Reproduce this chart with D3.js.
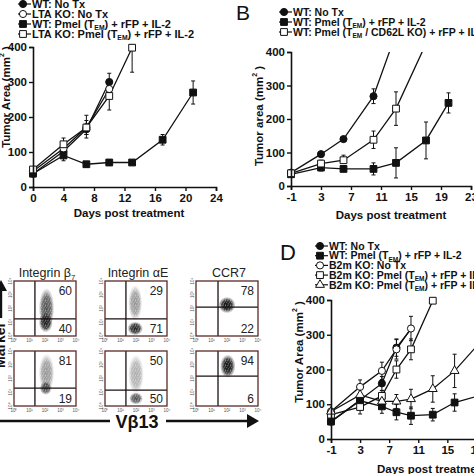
<!DOCTYPE html>
<html>
<head>
<meta charset="utf-8">
<script src="https://cdn.jsdelivr.net/npm/d3@7"></script>
<style>
  body { margin: 0; background: #fff; }
  svg { display: block; font-family: 'Liberation Sans', Arial, sans-serif; }
</style>
</head>
<body>
<svg id="fig" width="474" height="474"></svg>
<script>
/* eslint-disable no-undef */

// ---- panel A : [day, value, errUp, errDown]
const aLegend = ['WT: No Tx', 'LTA KO: No Tx', 'WT: Pmel (T{EM}) + rFP + IL-2', 'LTA KO: Pmel (T{EM}) + rFP + IL-2']
const aWtNoTx = [[0, 38, 5, 5], [4, 102, 12, 12], [7, 165, 15, 15], [10, 300, 25, 25]]
const aLtaNoTx = [[0, 45, 5, 5], [4, 110, 15, 15], [7, 170, 20, 20], [10, 280, 25, 25]]
const aWtPmel = [[0, 38, 5, 5], [4, 90, 10, 15], [7, 65, 8, 8], [10, 70, 8, 8], [13, 70, 6, 6], [17, 135, 15, 15], [21, 270, 33, 33]]
const aLtaPmel = [[0, 50, 5, 5], [4, 122, 18, 15], [7, 170, 35, 30], [10, 260, 20, 40], [13, 398, 8, 70]]
const aTicksX = [0, 4, 8, 12, 16, 20, 24]

// ---- panel B
const bLegend = ['WT: No Tx', 'WT: Pmel (T{EM}) + rFP + IL-2', 'WT: Pmel (T{EM} / CD62L KO) + rFP + IL-2']
const bWtNoTx = [[-1, 40, 5, 5], [3, 95, 6, 6], [6, 140, 6, 6], [10, 268, 22, 22], [13, 455, 0, 0]]
const bWtPmel = [[-1, 35, 5, 5], [3, 55, 10, 10], [6, 51, 6, 6], [10, 51, 18, 18], [13, 69, 45, 45], [17, 136, 55, 55], [20, 248, 30, 30]]
const bCd62l = [[-1, 38, 5, 5], [3, 67, 10, 10], [6, 77, 15, 8], [10, 138, 26, 26], [13, 231, 50, 50], [17, 425, 0, 0]]
const bTicksX = [-1, 3, 7, 11, 15, 19, 23]

// ---- panel D
const dLegend = ['WT: No Tx', 'WT: Pmel (T{EM}) + rFP + IL-2', 'B2m KO: No Tx', 'B2m KO: Pmel (T{EM}) + rFP + IL-2', 'B2m KO: Pmel (T{EM}) + rFP + IL-2']
const dWtNoTx = [[-1, 50, 8, 8], [3, 112, 10, 10], [6, 160, 20, 20], [8, 263, 25, 25], [10, 316, 0, 0]]
const dWtPmel = [[-1, 50, 8, 8], [3, 110, 15, 15], [6, 94, 20, 20], [8, 77, 22, 22], [10, 67, 25, 25], [13, 70, 18, 18], [16, 105, 25, 25], [20, 128, 0, 0]]
const dB2mNoTx = [[-1, 79, 5, 5], [3, 150, 20, 20], [6, 196, 25, 25], [8, 258, 28, 28], [10, 318, 35, 35]]
const dB2mPmel = [[-1, 70, 5, 5], [3, 92, 12, 20], [6, 124, 15, 15], [8, 200, 25, 25], [10, 258, 30, 30], [13, 398, 8, 8]]
const dB2mPmel2 = [[-1, 79, 5, 5], [3, 127, 15, 15], [6, 108, 15, 15], [8, 108, 20, 20], [10, 115, 28, 28], [13, 144, 38, 38], [16, 196, 48, 48], [20, 290, 0, 0]]
const dTicksX = [-1, 3, 7, 11, 15, 19, 23]

const yTicks = [0, 100, 200, 300, 400]

// ---- panel C (flow plots), log10 units 0..4
const flowCols = ['Integrin β{7}', 'Integrin αE', 'CCR7']
const flowGates = [[1.35, 1.24], [1.35, 1.24], [1.42, 2.1], [1.35, 1.3], [1.35, 1.16], [1.42, 2.18]]
const flowPct = [[60, 40], [29, 71], [78, 22], [81, 19], [50, 50], [94, 6]]
// [cx, cy, rx, ry, density]
const flowClouds = [
  [[2.1, 2.0, 0.5, 1.5, 0.75], [2.05, 1.0, 0.45, 0.75, 0.95]],
  [[1.95, 2.4, 0.45, 1.3, 0.45], [1.95, 0.55, 0.5, 0.5, 0.95]],
  [[2.0, 2.25, 0.55, 0.6, 1], [2.0, 2.25, 0.3, 0.4, 1]],
  [[2.1, 2.4, 0.5, 1.4, 0.45], [2.05, 1.3, 0.4, 0.5, 0.75]],
  [[2.0, 2.3, 0.5, 1.45, 0.35], [2.0, 0.55, 0.45, 0.45, 0.75]],
  [[2.05, 2.9, 0.5, 0.85, 1], [2.05, 2.9, 0.3, 0.55, 1]]
]
const flowTicks = ['10⁰', '10¹', '10²', '10³', '10⁴']

const ink = '#111'
const svg = d3.select('#fig')
const defs = svg.append('defs')

/**
 * text with {sub} parts
 */
function richText (sel, str, size) {
  let shift = 0
  str.split(/(\{[^}]*\})/).forEach(part => {
    if (!part) return
    if (part[0] === '{') {
      sel.append('tspan').attr('dy', 2.5 - shift).attr('font-size', size * 0.62).text(part.slice(1, -1))
      shift = 2.5
    } else {
      sel.append('tspan').attr('dy', -shift).text(part)
      shift = 0
    }
  })
}

function drawMarker (g, type, filled, x, y) {
  const sym = type === 'circle' ? d3.symbolCircle : type === 'square' ? d3.symbolSquare : d3.symbolTriangle
  const size = type === 'circle' ? 40 : type === 'square' ? 46 : 34
  g.append('path')
    .attr('d', d3.symbol().type(sym).size(size)())
    .attr('transform', `translate(${x},${y})`)
    .attr('fill', filled ? ink : '#fff')
    .attr('stroke', ink)
    .attr('stroke-width', 1)
}

function legend (x0, y0, dy, labels, series, size) {
  labels.forEach((lab, i) => {
    const y = y0 + i * dy
    svg.append('line').attr('x1', x0).attr('x2', x0 + 13).attr('y1', y).attr('y2', y)
      .attr('stroke', ink).attr('stroke-width', 1.2)
    drawMarker(svg, series[i].type, series[i].filled, x0 + 5, y)
    const t = svg.append('text').attr('x', x0 + 14).attr('y', y + size * 0.36)
      .attr('font-size', size).attr('font-weight', 'bold').attr('fill', ink)
    richText(t, lab, size)
  })
}

function yLabel (x, y, txt) {
  const t = svg.append('text').attr('transform', `translate(${x},${y}) rotate(-90)`)
    .attr('text-anchor', 'middle').attr('font-size', 11.5).attr('font-weight', 'bold').attr('fill', ink)
  t.append('tspan').text(txt + ' (mm')
  t.append('tspan').attr('dy', -6).attr('font-size', 7).text('2')
  t.append('tspan').attr('dy', 6).text(' )')
}

function linePanel (cfg) {
  const x = d3.scaleLinear().domain(cfg.xDomain).range(cfg.xRange)
  const y = d3.scaleLinear().domain([0, 400]).range(cfg.yRange)
  const id = 'clip' + cfg.name
  defs.append('clipPath').attr('id', id).append('rect')
    .attr('x', cfg.xRange[0] - 5).attr('y', y(cfg.clipTop))
    .attr('width', 600).attr('height', y(0) - y(cfg.clipTop) + 10)
  const g = svg.append('g')
  const line = d3.line().x(d => x(d[0])).y(d => y(d[1]))

  cfg.series.forEach(s => {
    g.append('path').datum(s.data).attr('d', line)
      .attr('clip-path', `url(#${id})`)
      .attr('fill', 'none').attr('stroke', ink).attr('stroke-width', 1.3)
  })
  cfg.series.forEach(s => {
    s.data.filter(d => d[1] <= 400 && (d[2] || d[3])).forEach(d => {
      const xx = x(d[0])
      const top = y(d[1] + d[2])
      const bot = y(d[1] - d[3])
      g.append('line').attr('x1', xx).attr('x2', xx).attr('y1', top).attr('y2', bot)
        .attr('stroke', ink).attr('stroke-width', 1)
      ;[top, bot].forEach(yy => g.append('line').attr('x1', xx - 2).attr('x2', xx + 2)
        .attr('y1', yy).attr('y2', yy).attr('stroke', ink).attr('stroke-width', 1))
    })
  })
  cfg.series.forEach(s => {
    s.data.filter(d => d[1] <= 400 && d[2] + d[3] > 0).forEach(d => drawMarker(g, s.type, s.filled, x(d[0]), y(d[1])))
  })

  const xAxis = d3.axisBottom(x).tickValues(cfg.ticksX).tickSize(4).tickPadding(3).tickFormat(d => String(d))
  const yAxis = d3.axisLeft(y).tickValues(yTicks).tickSize(4).tickPadding(2)
  const gx = svg.append('g').attr('transform', `translate(0,${y(0)})`).call(xAxis)
  const gy = svg.append('g').attr('transform', `translate(${x(cfg.xDomain[0])},0)`).call(yAxis)
  ;[gx, gy].forEach(ax => {
    ax.select('.domain').attr('stroke', ink).attr('stroke-width', 1.6)
    ax.selectAll('.tick line').attr('stroke', ink).attr('stroke-width', 1.4)
    ax.selectAll('text').attr('font-size', 11.5).attr('font-weight', 'bold').attr('fill', ink)
      .attr('font-family', "'Liberation Sans', Arial, sans-serif")
  })

  svg.append('text').attr('x', cfg.xLabel[0]).attr('y', cfg.xLabel[1]).attr('text-anchor', cfg.xLabel[2])
    .attr('font-size', 11.5).attr('font-weight', 'bold').attr('fill', ink).text('Days post treatment')
  yLabel(cfg.yLabel[0], cfg.yLabel[1], cfg.yLabel[2])
}

// ---------------- panel A
const aSeries = [
  { data: aWtNoTx, type: 'circle', filled: true },
  { data: aLtaNoTx, type: 'circle', filled: false },
  { data: aWtPmel, type: 'square', filled: true },
  { data: aLtaPmel, type: 'square', filled: false }
]
linePanel({
  name: 'A', xDomain: [0, 24], xRange: [33, 216], yRange: [187, 47], clipTop: 430,
  ticksX: aTicksX, series: aSeries,
  xLabel: [129, 217, 'middle'], yLabel: [10, 97, 'Tumor Area']
})
legend(18, 4, 10, aLegend, aSeries, 11)

// ---------------- panel B
const bSeries = [
  { data: bWtNoTx, type: 'circle', filled: true },
  { data: bWtPmel, type: 'square', filled: true },
  { data: bCd62l, type: 'square', filled: false }
]
linePanel({
  name: 'B', xDomain: [-1, 23], xRange: [291, 471], yRange: [186, 52], clipTop: 400,
  ticksX: bTicksX, series: bSeries,
  xLabel: [391, 219, 'middle'], yLabel: [263, 116, 'Tumor area']
})
legend(279, 12, 10, bLegend, bSeries, 10.5)
svg.append('text').attr('x', 236).attr('y', 20).attr('font-size', 21).attr('fill', ink).text('B')

// ---------------- panel D
const dSeries = [
  { data: dWtNoTx, type: 'circle', filled: true },
  { data: dWtPmel, type: 'square', filled: true },
  { data: dB2mNoTx, type: 'circle', filled: false },
  { data: dB2mPmel, type: 'square', filled: false },
  { data: dB2mPmel2, type: 'triangle', filled: false }
]
linePanel({
  name: 'D', xDomain: [-1, 23], xRange: [331, 505.5], yRange: [439, 300], clipTop: 430,
  ticksX: dTicksX, series: dSeries,
  xLabel: [377, 473, 'start'], yLabel: [303, 352, 'Tumor Area']
})
legend(315, 246, 9.7, dLegend, dSeries, 10.5)
svg.append('text').attr('x', 280).attr('y', 260).attr('font-size', 22).attr('fill', ink).text('D')

// ---------------- panel C (flow)
const grad = defs.append('radialGradient').attr('id', 'cloud')
grad.append('stop').attr('offset', '0%').attr('stop-color', '#111').attr('stop-opacity', 1)
grad.append('stop').attr('offset', '60%').attr('stop-color', '#1a1a1a').attr('stop-opacity', 0.85)
grad.append('stop').attr('offset', '100%').attr('stop-color', '#444').attr('stop-opacity', 0)
// speckle texture so clouds look like dot plots
const stip = defs.append('pattern').attr('id', 'grain').attr('width', 5).attr('height', 5)
  .attr('patternUnits', 'userSpaceOnUse')
;[[0.6, 0.8, 0.7], [2.9, 0.4, 0.5], [4.2, 2.1, 0.6], [1.7, 2.6, 0.55], [3.3, 3.9, 0.7], [0.4, 4.3, 0.45], [2.4, 1.6, 0.35]]
  .forEach(p => stip.append('circle').attr('cx', p[0]).attr('cy', p[1]).attr('r', p[2]).attr('fill', '#fff'))

const boxW = 62
const boxH = 55
const boxLeft = [14, 105, 196]
const boxTop = [281, 351]

flowCols.forEach((c, i) => {
  const t = svg.append('text').attr('x', boxLeft[i] + boxW / 2 + 2).attr('y', 277)
    .attr('text-anchor', 'middle').attr('font-size', 12.5).attr('fill', '#222')
  richText(t, c, 12.5)
})

flowPct.forEach((pct, k) => {
  const col = k % 3
  const row = Math.floor(k / 3)
  const left = boxLeft[col]
  const top = boxTop[row]
  const fx = d3.scaleLinear().domain([0, 4]).range([left, left + boxW])
  const fy = d3.scaleLinear().domain([0, 4]).range([top + boxH, top])
  const g = svg.append('g')
  const cid = 'fc' + k
  defs.append('clipPath').attr('id', cid).append('rect')
    .attr('x', left).attr('y', top).attr('width', boxW).attr('height', boxH)
  const inner = g.append('g').attr('clip-path', `url(#${cid})`)
  flowClouds[k].forEach(cl => {
    inner.append('ellipse')
      .attr('cx', fx(cl[0])).attr('cy', fy(cl[1]))
      .attr('rx', fx(cl[2]) - fx(0)).attr('ry', fy(0) - fy(cl[3]))
      .attr('fill', 'url(#cloud)').attr('fill-opacity', cl[4])
  })
  inner.append('rect').attr('x', left).attr('y', top).attr('width', boxW).attr('height', boxH)
    .attr('fill', 'url(#grain)').attr('opacity', 0.45)

  g.append('line').attr('x1', fx(flowGates[k][0])).attr('x2', fx(flowGates[k][0]))
    .attr('y1', top).attr('y2', top + boxH).attr('stroke', '#1a1010').attr('stroke-width', 1.3)
  g.append('line').attr('x1', left).attr('x2', left + boxW)
    .attr('y1', fy(flowGates[k][1])).attr('y2', fy(flowGates[k][1])).attr('stroke', '#1a1010').attr('stroke-width', 1.3)
  g.append('rect').attr('x', left).attr('y', top).attr('width', boxW).attr('height', boxH)
    .attr('fill', 'none').attr('stroke', '#5a2a26').attr('stroke-width', 1.3)

  g.append('text').attr('x', left + boxW - 4).attr('y', top + 14).attr('text-anchor', 'end')
    .attr('font-size', 12).attr('fill', '#222').text(pct[0])
  g.append('text').attr('x', left + boxW - 4).attr('y', top + 52).attr('text-anchor', 'end')
    .attr('font-size', 12).attr('fill', '#222').text(pct[1])

  flowTicks.forEach((tk, j) => {
    g.append('text').attr('x', fx(j)).attr('y', top + boxH + 6).attr('text-anchor', 'middle')
      .attr('font-size', 4.5).attr('fill', '#555').text(tk)
    g.append('text').attr('transform', `translate(${left - 2},${fy(j)}) rotate(-90)`).attr('text-anchor', 'middle')
      .attr('font-size', 4.5).attr('fill', '#555').text(tk)
  })
})

// axis arrows of panel C
svg.append('line').attr('x1', 0).attr('x2', 110).attr('y1', 421).attr('y2', 421).attr('stroke', ink).attr('stroke-width', 2.4)
svg.append('line').attr('x1', 166).attr('x2', 250).attr('y1', 421).attr('y2', 421).attr('stroke', ink).attr('stroke-width', 2.4)
svg.append('path').attr('d', 'M247,414 L259,421 L247,428 Z').attr('fill', ink)
svg.append('text').attr('x', 137).attr('y', 428).attr('text-anchor', 'middle')
  .attr('font-size', 18).attr('font-weight', 'bold').attr('fill', ink).text('Vβ13')
svg.append('line').attr('x1', 1).attr('x2', 1).attr('y1', 290).attr('y2', 318).attr('stroke', ink).attr('stroke-width', 2.4)
svg.append('path').attr('d', 'M-5,291 L1,280 L7,291 Z').attr('fill', ink)
svg.append('text').attr('transform', 'translate(5,345) rotate(-90)').attr('text-anchor', 'middle')
  .attr('font-size', 14).attr('font-weight', 'bold').attr('fill', ink).text('Marker')
</script>
</body>
</html>
